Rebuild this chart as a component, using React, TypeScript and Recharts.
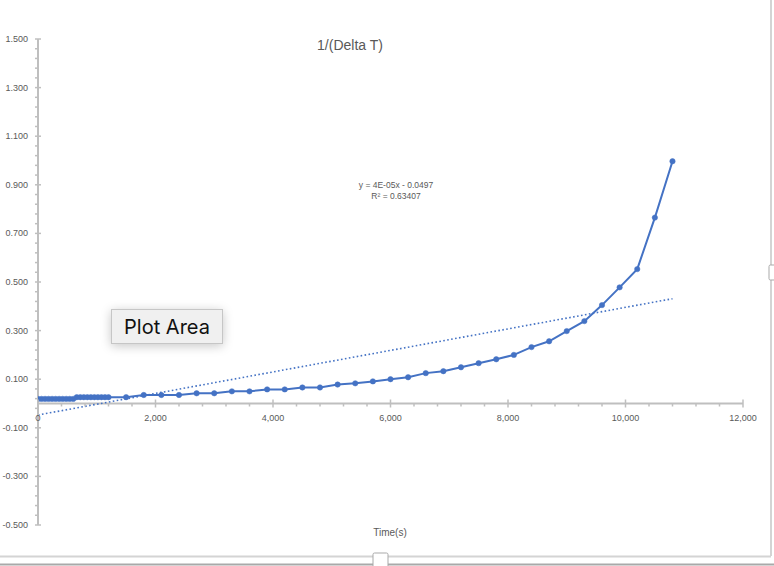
import React from 'react';
import { ComposedChart, Line, XAxis, YAxis, ReferenceLine } from 'recharts';

// ---- data ----
const TIME_S = [
  0, 60, 120, 180, 240, 300, 360, 420, 480, 540, 600,
  660, 720, 780, 840, 900, 960, 1020, 1080, 1140, 1200,
  1500, 1800, 2100, 2400, 2700, 3000, 3300, 3600, 3900, 4200,
  4500, 4800, 5100, 5400, 5700, 6000, 6300, 6600, 6900, 7200,
  7500, 7800, 8100, 8400, 8700, 9000, 9300, 9600, 9900, 10200,
  10500, 10800,
];
const INV_DELTA_T = [
  0.019, 0.019, 0.019, 0.019, 0.019, 0.019, 0.019, 0.019, 0.019, 0.019, 0.019,
  0.026, 0.026, 0.026, 0.026, 0.026, 0.026, 0.026, 0.026, 0.026, 0.026,
  0.026, 0.035, 0.035, 0.035, 0.042, 0.042, 0.05, 0.05, 0.058, 0.058,
  0.066, 0.066, 0.078, 0.083, 0.091, 0.1, 0.108, 0.125, 0.133, 0.149,
  0.166, 0.182, 0.2, 0.232, 0.256, 0.298, 0.339, 0.405, 0.478, 0.553,
  0.765, 0.997,
];
const X_MAJOR_TICKS = [0, 2000, 4000, 6000, 8000, 10000, 12000];
const Y_MAJOR_TICKS = [-0.5, -0.3, -0.1, 0.1, 0.3, 0.5, 0.7, 0.9, 1.1, 1.3, 1.5];
const X_MINOR_STEP = 400;
const Y_MINOR_STEP = 0.04;
const TITLE = '1/(Delta T)';
const X_TITLE = 'Time(s)';
const EQ_LINE1 = 'y = 4E-05x - 0.0497';
const EQ_LINE2 = 'R² = 0.63407';
const TOOLTIP_TEXT = 'Plot Area';

// ---- layout ----
const W = 774;
const H = 566;
const X_AXIS_H = 30;
const MARGIN = { top: 39, right: 31, bottom: 11, left: 0 };
const Y_AXIS_W = 38;
const X_DOMAIN: [number, number] = [0, 12000];
const Y_DOMAIN: [number, number] = [-0.5, 1.5];
const PLOT_H = H - MARGIN.top - MARGIN.bottom - X_AXIS_H;
const ZERO_FROM_BOTTOM = (PLOT_H * (0 - Y_DOMAIN[0])) / (Y_DOMAIN[1] - Y_DOMAIN[0]);

const SERIES_COLOR = '#4472C4';
const AXIS_COLOR = '#bfbfbf';
const TEXT_COLOR = '#595959';
const FONT = "'Liberation Sans', Arial, sans-serif";

const data = TIME_S.map((t, i) => ({ t, v: INV_DELTA_T[i] }));

// linear least-squares trendline from the series
const n = TIME_S.length;
const mx = TIME_S.reduce((a, b) => a + b, 0) / n;
const my = INV_DELTA_T.reduce((a, b) => a + b, 0) / n;
let sxy = 0;
let sxx = 0;
TIME_S.forEach((t, i) => {
  sxy += (t - mx) * (INV_DELTA_T[i] - my);
  sxx += (t - mx) * (t - mx);
});
const slope = sxy / sxx;
const intercept = my - slope * mx;
const tMin = TIME_S[0];
const tMax = TIME_S[TIME_S.length - 1];
const trendData = [
  { t: tMin, trend: intercept + slope * tMin },
  { t: tMax, trend: intercept + slope * tMax },
];

const xTicks: number[] = [];
for (let i = 0; i <= Math.round((X_DOMAIN[1] - X_DOMAIN[0]) / X_MINOR_STEP); i++) {
  xTicks.push(X_DOMAIN[0] + i * X_MINOR_STEP);
}
const yTicks: number[] = [];
for (let i = 0; i <= Math.round((Y_DOMAIN[1] - Y_DOMAIN[0]) / Y_MINOR_STEP); i++) {
  yTicks.push(Math.round((Y_DOMAIN[0] + i * Y_MINOR_STEP) * 1000) / 1000);
}
const isYMajor = (v: number) => Y_MAJOR_TICKS.some((m) => Math.abs(m - v) < 1e-6);

const XTick = (props: any) => {
  const { x, y, payload } = props;
  const v = payload.value as number;
  const ay = y - ZERO_FROM_BOTTOM;
  const major = X_MAJOR_TICKS.includes(v);
  return (
    <g>
      {major ? (
        <line x1={x} x2={x} y1={ay - 4} y2={ay + 4} stroke={AXIS_COLOR} strokeWidth={1.5} />
      ) : (
        <line x1={x} x2={x} y1={ay} y2={ay + 3} stroke={AXIS_COLOR} strokeWidth={1.5} />
      )}
      {major && (
        <text x={x} y={ay + 17} textAnchor="middle" fontSize={9} fill={TEXT_COLOR} fontFamily={FONT}>
          {v.toLocaleString('en-US')}
        </text>
      )}
    </g>
  );
};

const YTick = (props: any) => {
  const { x, y, payload } = props;
  const v = payload.value as number;
  const major = isYMajor(v);
  return (
    <g>
      {major ? (
        <line x1={x - 3} x2={x + 3} y1={y} y2={y} stroke={AXIS_COLOR} strokeWidth={1.5} />
      ) : (
        <line x1={x - 3} x2={x} y1={y} y2={y} stroke={AXIS_COLOR} strokeWidth={1.5} />
      )}
      {major && (
        <text x={x - 10} y={y + 3} textAnchor="end" fontSize={9} fill={TEXT_COLOR} fontFamily={FONT}>
          {v.toFixed(3)}
        </text>
      )}
    </g>
  );
};

export default function App() {
  return (
    <div style={{ position: 'absolute', left: 0, top: 0, width: W, height: H, background: '#fff', overflow: 'hidden' }}>
      <ComposedChart width={W} height={H} data={data} margin={MARGIN}>
        <XAxis
          dataKey="t"
          type="number"
          domain={X_DOMAIN}
          ticks={xTicks}
          interval={0}
          height={X_AXIS_H}
          axisLine={false}
          tickLine={false}
          tickSize={0}
          tickMargin={0}
          tick={<XTick />}
          allowDataOverflow
        />
        <YAxis
          type="number"
          domain={Y_DOMAIN}
          ticks={yTicks}
          interval={0}
          width={Y_AXIS_W}
          axisLine={{ stroke: AXIS_COLOR, strokeWidth: 2 }}
          tickLine={false}
          tickSize={0}
          tickMargin={0}
          tick={<YTick />}
          allowDataOverflow
        />
        <ReferenceLine y={0} stroke={AXIS_COLOR} strokeWidth={2} />
        <Line
          data={trendData}
          dataKey="trend"
          type="linear"
          stroke={SERIES_COLOR}
          strokeWidth={1.6}
          strokeDasharray="1.6 2.4"
          dot={false}
          activeDot={false}
          isAnimationActive={false}
        />
        <Line
          dataKey="v"
          type="linear"
          stroke={SERIES_COLOR}
          strokeWidth={2}
          dot={{ r: 2.7, fill: SERIES_COLOR, stroke: SERIES_COLOR, strokeWidth: 0.5 }}
          activeDot={false}
          isAnimationActive={false}
        />
      </ComposedChart>
      <svg width={W} height={H} style={{ position: 'absolute', left: 0, top: 0, pointerEvents: 'none' }}>
        <text x={350} y={50} textAnchor="middle" fontSize={14} fill={TEXT_COLOR} fontFamily={FONT}>
          {TITLE}
        </text>
        <text x={396} y={188} textAnchor="middle" fontSize={8.5} fill={TEXT_COLOR} fontFamily={FONT}>
          {EQ_LINE1}
        </text>
        <text x={396} y={199} textAnchor="middle" fontSize={8.5} fill={TEXT_COLOR} fontFamily={FONT}>
          {EQ_LINE2}
        </text>
        <text x={390} y={536} textAnchor="middle" fontSize={10} fill={TEXT_COLOR} fontFamily={FONT}>
          {X_TITLE}
        </text>
        {/* chart frame */}
        <line x1={771} x2={771} y1={0} y2={556} stroke="#d4d4d4" strokeWidth={2} />
        <line x1={0} x2={771} y1={556.5} y2={556.5} stroke="#d4d4d4" strokeWidth={2} />
        <line x1={0} x2={W} y1={564.5} y2={564.5} stroke="#a9a9a9" strokeWidth={2} />
        <rect x={769} y={265} width={10} height={15} fill="#fff" stroke="#a9a9a9" strokeWidth={1} rx={1.5} />
        <rect x={373} y={553} width={15} height={16} fill="#fff" stroke="#a9a9a9" strokeWidth={1} rx={1.5} />
      </svg>
      <div
        style={{
          position: 'absolute',
          left: 111,
          top: 309,
          width: 112,
          height: 35,
          background: '#f0f0f0',
          border: '1px solid #c6c6c6',
          boxShadow: '0 2px 10px rgba(0,0,0,0.22)',
          boxSizing: 'border-box',
          display: 'flex',
          alignItems: 'center',
          justifyContent: 'center',
          fontFamily: "Inter, 'Liberation Sans', sans-serif",
          fontSize: 20,
          color: '#111',
        }}
      >
        {TOOLTIP_TEXT}
      </div>
    </div>
  );
}
